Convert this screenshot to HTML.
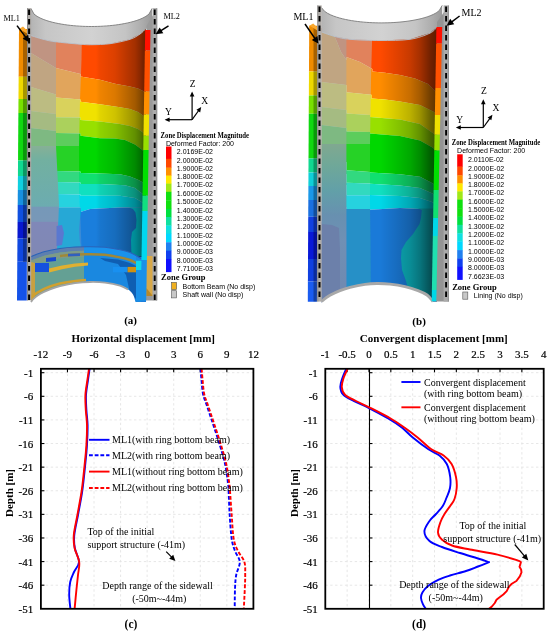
<!DOCTYPE html>
<html><head><meta charset="utf-8"><title>Shaft displacement figure</title>
<style>html,body{margin:0;padding:0;background:#fff;width:550px;height:634px;overflow:hidden}svg{display:block}</style>
</head><body>
<svg width="550" height="634" viewBox="0 0 550 634">
<defs>
<style>
.grid{stroke:#e4e4e4;stroke-width:0.9;stroke-dasharray:2.4,2.5;fill:none}
.tick{stroke:#000;stroke-width:1.1}
.tl{stroke:#000;stroke-width:0.2}
.cb{stroke:#0000ff;stroke-width:1.9;fill:none}
.cr{stroke:#ff0000;stroke-width:1.9;fill:none}
</style>
<linearGradient id="shadeR" x1="0" x2="1" y1="0" y2="0">
<stop offset="0" stop-color="#000" stop-opacity="0"/>
<stop offset="0.3" stop-color="#000" stop-opacity="0.07"/>
<stop offset="0.6" stop-color="#000" stop-opacity="0.2"/>
<stop offset="0.85" stop-color="#000" stop-opacity="0.38"/>
<stop offset="1" stop-color="#000" stop-opacity="0.55"/>
</linearGradient>
<linearGradient id="grayBand" x1="0" x2="1" y1="0" y2="0">
<stop offset="0" stop-color="#b4b4b4"/>
<stop offset="0.12" stop-color="#c6c6c6"/>
<stop offset="0.5" stop-color="#d2d2d2"/>
<stop offset="0.78" stop-color="#c4c4c4"/>
<stop offset="0.92" stop-color="#acacac"/>
<stop offset="1" stop-color="#9a9a9a"/>
</linearGradient>
<linearGradient id="colA_a" gradientUnits="userSpaceOnUse" x1="0" y1="146" x2="0" y2="262">
<stop offset="0" stop-color="#86b096"/>
<stop offset="0.12" stop-color="#72b0a0"/>
<stop offset="0.52" stop-color="#6cacb0"/>
<stop offset="0.525" stop-color="#7698b8"/>
<stop offset="0.65" stop-color="#7898b8"/>
<stop offset="0.655" stop-color="#8088b8"/>
<stop offset="1" stop-color="#8088b4"/>
</linearGradient>
<linearGradient id="colA_b" gradientUnits="userSpaceOnUse" x1="0" y1="144" x2="0" y2="300">
<stop offset="0" stop-color="#80a890"/>
<stop offset="0.13" stop-color="#70a898"/>
<stop offset="0.3" stop-color="#62a0a8"/>
<stop offset="0.46" stop-color="#6890b0"/>
<stop offset="0.62" stop-color="#7090b4"/>
<stop offset="1" stop-color="#7088b0"/>
</linearGradient>
<linearGradient id="shadeA" gradientUnits="userSpaceOnUse" x1="96" y1="0" x2="146" y2="0">
<stop offset="0" stop-color="#000" stop-opacity="0"/>
<stop offset="0.08" stop-color="#000" stop-opacity="0.06"/>
<stop offset="0.38" stop-color="#000" stop-opacity="0.14"/>
<stop offset="0.58" stop-color="#000" stop-opacity="0.25"/>
<stop offset="0.78" stop-color="#000" stop-opacity="0.36"/>
<stop offset="0.88" stop-color="#000" stop-opacity="0.46"/>
<stop offset="0.94" stop-color="#000" stop-opacity="0.54"/>
<stop offset="1" stop-color="#000" stop-opacity="0.58"/>
</linearGradient>
<linearGradient id="shadeB" gradientUnits="userSpaceOnUse" x1="380" y1="0" x2="437" y2="0">
<stop offset="0" stop-color="#000" stop-opacity="0"/>
<stop offset="0.175" stop-color="#000" stop-opacity="0.07"/>
<stop offset="0.35" stop-color="#000" stop-opacity="0.14"/>
<stop offset="0.53" stop-color="#000" stop-opacity="0.22"/>
<stop offset="0.7" stop-color="#000" stop-opacity="0.35"/>
<stop offset="0.88" stop-color="#000" stop-opacity="0.55"/>
<stop offset="1" stop-color="#000" stop-opacity="0.64"/>
</linearGradient>
</defs>
<rect width="550" height="634" fill="#fff"/>
<g id="pa">
<polygon points="31,29 146,29 146,93 143,91 138,88.5 130,86.5 115,83.7 100,79.7 80.51,76.6 80.5,74 56.01,68 56,68 31,53" fill="#ff4a00" />
<polygon points="31,53 56,68 56.01,68 80.5,74 80.51,76.6 100,79.7 115,83.7 130,86.5 138,88.5 143,91 146,93 146,118 143,115.5 138,112 130,109 120,107.3 100,104.2 80.51,101.8 80.5,99.5 56.01,97.5 56,94.5 31,87" fill="#ff8c00" />
<polygon points="31,87 56,94.5 56.01,97.5 80.5,99.5 80.51,101.8 100,104.2 120,107.3 130,109 138,112 143,115.5 146,118 146,135 143,132.5 138,129 130,126 120,124 100,121.5 80.51,120 80.5,117.5 56.01,117.3 56,114 31,111" fill="#f0e200" />
<polygon points="31,111 56,114 56.01,117.3 80.5,117.5 80.51,120 100,121.5 120,124 130,126 138,129 143,132.5 146,135 146,153 143,150.5 140,148.2 135,144.4 125,140 115,138.5 100,138.3 80.51,135.7 80.5,133.5 56.01,133 56,131 31,128" fill="#98e000" />
<polygon points="31,128 56,131 56.01,133 80.5,133.5 80.51,135.7 100,138.3 115,138.5 125,140 135,144.4 140,148.2 143,150.5 146,153 146,185 143,182.5 138,179.7 130,176.4 120,174.2 100,173.6 80.51,172.9 80.5,171.5 56.01,171 56,161 31,157" fill="#00d800" />
<polygon points="31,157 56,161 56.01,171 80.5,171.5 80.51,172.9 100,173.6 120,174.2 130,176.4 138,179.7 143,182.5 146,185 146,196 140,191.9 135,188 125,185.2 100,184 80.51,183.9 80.5,182.5 56.01,182 56,172 31,170" fill="#10e070" />
<polygon points="31,170 56,172 56.01,182 80.5,182.5 80.51,183.9 100,184 125,185.2 135,188 140,191.9 146,196 146,205 140,201 135,198 120,195.7 80.51,195.7 80.5,194.5 56.01,194 56,184 31,181" fill="#10e0c0" />
<polygon points="31,181 56,184 56.01,194 80.5,194.5 80.51,195.7 120,195.7 135,198 140,201 146,205 146,207.6 120,207.6 100,208.4 90,209 80.51,212 80.5,207.8 56.01,207.8 56,207 31,207" fill="#00d8e8" />
<polygon points="31,207 56,207 56.01,207.8 80.5,207.8 80.51,212 90,209 100,208.4 120,207.6 146,207.6 146,302 31,302" fill="#1a7edc" />
<polygon points="129,207.6 133,209 135.5,212.5 136.5,220 136,228 132,232 131,240 131.5,256 146,256 146,207.6" fill="#00d8e8" />
<polygon points="31,222.5 56.5,222.5 56.5,256 31,256" fill="#1050e8" />
<polygon points="56.5,226 62,225 64,233 62,245 56.5,246" fill="#1050e8" />
<rect x="96" y="29" width="50" height="228" fill="url(#shadeA)"/>
<polygon points="56,207.8 80.5,207.8 81,213 79.8,220 79,230 79.6,240 81,248 82,262 56,262" fill="#00a3dd" />
<polygon points="31,29 82,29 81.5,60 80,100 79,146 31,146" fill="rgba(192,192,192,0.48)" />
<polygon points="31,146 79,146 79,190 80.5,220 82,262 31,262" fill="rgba(192,192,192,0.2)" />
<polygon points="31,29 56,29 56,146 31,146" fill="rgba(160,165,168,0.5)" />
<polygon points="31,146 56,146 57.5,175 59,205 56.5,262 31,262" fill="url(#colA_a)" />
<polygon points="56.5,226 62,225 64,233 62,245 56.5,246" fill="#5a78d0" />
<polygon points="31,256.5 45,251.5 60,248.5 75,247 84,246.82 84,302 31,302" fill="#64a094" />
<polygon points="31,256.5 45,251.5 60,248.5 75,247 84,246.82 84,250.82 75,251 60,252.5 45,255.5 31,260.5" fill="#5d7fb0" />
<polygon points="31,260.5 45,255.5 60,252.5 75,251 84,250.82 84,256.82 75,257 60,258.5 45,261.5 31,266.5" fill="#7d9a88" />
<polygon points="84,246.82 90,246.7 105,247.3 120,249.8 130,252.5 136,255.5 141,258.5 141,302 84,302" fill="#1a88e0" />
<polygon points="84,246.82 90,246.7 105,247.3 120,249.8 130,252.5 136,255.5 136,261.5 130,258.5 120,255.8 105,253.3 90,252.7 84,252.82" fill="#1a92ec" />
<path d="M60,256 C62.5,255.75 70,254.8 75,254.5 C80,254.2 85,254.15 90,254.2 C95,254.25 100,254.28 105,254.8 C110,255.32 115.83,256.43 120,257.3 C124.17,258.17 127.33,259.05 130,260 C132.67,260.95 135,262.5 136,263" stroke="#a08838" stroke-width="2.4" fill="none"/>
<polygon points="100,258 118,259.5 130,263 136,266 136,299 130,293 126,275 118,264 105,261" fill="rgba(8,60,140,0.55)" />
<path d="M31,256.5 C33.33,255.67 40.17,252.83 45,251.5 C49.83,250.17 55,249.25 60,248.5 C65,247.75 70,247.3 75,247 C80,246.7 85,246.65 90,246.7 C95,246.75 100,246.78 105,247.3 C110,247.82 115.83,248.93 120,249.8 C124.17,250.67 127.33,251.55 130,252.5 C132.67,253.45 134.17,254.5 136,255.5 C137.83,256.5 140.17,258 141,258.5" stroke="#2a62b8" stroke-width="1.1" fill="none"/>
<polygon points="35,263 49,263 49,272 35,272" fill="#1450e0" />
<polygon points="46,258 56,257 56,261 46,262" fill="#1848d0" />
<polygon points="68,253.8 80,253.2 80,256 68,256.6" fill="#3060c0" />
<polygon points="49,268.5 62,265.5 75,263.5 88,262.5 88,265.5 75,266.8 62,269.2 49,272.5" fill="#e0b030" />
<polygon points="31,262 35,263 35,301 31,301" fill="#c8a040" />
<path d="M31.5,297 C38,291.5 48,286.5 60,283.6 C70,281.5 78,280.4 86,280" stroke="#d0a030" stroke-width="2.6" fill="none"/>
<polygon points="113,266.9 127.6,266.9 127.6,272.3 113,272.3" fill="#1890f0" />
<polygon points="127.6,266.9 136,266.9 136,272.3 127.6,272.3" fill="#d09010" />
<polygon points="136,260.7 145.8,260.7 145.8,270 136,270" fill="#10d8e8" />
<polygon points="136,270 145.8,270 145.8,300.5 136,300.5" fill="#1a90e8" />
<path d="M31,302 C31.42,301.47 32,300.13 33.5,298.8 C35,297.47 37.25,295.57 40,294 C42.75,292.43 46.67,290.7 50,289.4 C53.33,288.1 55.83,287.23 60,286.2 C64.17,285.17 70,283.9 75,283.2 C80,282.5 85,282.1 90,282 C95,281.9 100,282 105,282.6 C110,283.2 116.17,284.45 120,285.6 C123.83,286.75 125.83,288.02 128,289.5 C130.17,290.98 131.75,292.42 133,294.5 C134.25,296.58 135.08,300.75 135.5,302 L135.5,304 L31,304 Z" fill="#fff"/>
<path d="M31,302 C31.42,301.47 32,300.13 33.5,298.8 C35,297.47 37.25,295.57 40,294 C42.75,292.43 46.67,290.7 50,289.4 C53.33,288.1 55.83,287.23 60,286.2 C64.17,285.17 70,283.9 75,283.2 C80,282.5 85,282.1 90,282 C95,281.9 100,282 105,282.6 C110,283.2 116.17,284.45 120,285.6 C123.83,286.75 126.67,288.85 128,289.5" stroke="#a4a4a4" stroke-width="1.8" fill="none"/>
<polygon points="31,8.5 34.02,14.12 37.05,16.35 40.08,17.98 43.1,19.3 46.12,20.41 49.15,21.35 52.17,22.18 55.2,22.9 58.23,23.53 61.25,24.09 64.28,24.57 67.3,25 70.33,25.36 73.35,25.67 76.38,25.93 79.4,26.14 82.42,26.3 85.45,26.41 88.47,26.48 91.5,26.5 94.53,26.48 97.55,26.41 100.58,26.3 103.6,26.14 106.62,25.93 109.65,25.67 112.67,25.36 115.7,25 118.72,24.57 121.75,24.09 124.78,23.53 127.8,22.9 130.82,22.18 133.85,21.35 136.88,20.41 139.9,19.3 142.93,17.98 145.95,16.35 148.97,14.12 152,8.5 152,26 145,29.5 140,34 130,39.3 110,43.7 92,44.7 80,44.2 55,41.7 43,39.2 31,35.6" fill="url(#grayBand)" />
<path d="M31,8.5 L34.02,14.12 L37.05,16.35 L40.08,17.98 L43.1,19.3 L46.12,20.41 L49.15,21.35 L52.17,22.18 L55.2,22.9 L58.23,23.53 L61.25,24.09 L64.28,24.57 L67.3,25 L70.33,25.36 L73.35,25.67 L76.38,25.93 L79.4,26.14 L82.42,26.3 L85.45,26.41 L88.47,26.48 L91.5,26.5 L94.53,26.48 L97.55,26.41 L100.58,26.3 L103.6,26.14 L106.62,25.93 L109.65,25.67 L112.67,25.36 L115.7,25 L118.72,24.57 L121.75,24.09 L124.78,23.53 L127.8,22.9 L130.82,22.18 L133.85,21.35 L136.88,20.41 L139.9,19.3 L142.93,17.98 L145.95,16.35 L148.97,14.12 L152,8.5" stroke="#7a7a7a" stroke-width="0.9" fill="none"/>
<path d="M31,35.6 C33,36.2 39,38.18 43,39.2 C47,40.22 48.83,40.87 55,41.7 C61.17,42.53 73.83,43.7 80,44.2 C86.17,44.7 87,44.78 92,44.7 C97,44.62 103.67,44.6 110,43.7 C116.33,42.8 125,40.92 130,39.3 C135,37.68 137.5,35.63 140,34 C142.5,32.37 144.17,30.25 145,29.5" stroke="#b8c4d0" stroke-width="0.9" fill="none"/>
<polygon points="19,29 27,29 26.96,76.8 18.65,76.8" fill="#f08c00" />
<polygon points="18.65,76.8 26.96,76.8 26.95,98.9 18.49,98.9" fill="#eed800" />
<polygon points="18.49,98.9 26.95,98.9 26.94,113 18.38,113" fill="#78e000" />
<polygon points="18.38,113 26.94,113 26.9,160.5 18.03,160.5" fill="#10d810" />
<polygon points="18.03,160.5 26.9,160.5 26.89,176 17.92,176" fill="#10d890" />
<polygon points="17.92,176 26.89,176 26.88,190 17.81,190" fill="#10d0e0" />
<polygon points="17.81,190 26.88,190 26.87,205 17.7,205" fill="#1890e0" />
<polygon points="17.7,205 26.87,205 26.86,222 17.58,222" fill="#1050e0" />
<polygon points="17.58,222 26.86,222 26.85,238.6 17.46,238.6" fill="#0818d0" />
<polygon points="17.46,238.6 26.85,238.6 26.83,261.7 17.29,261.7" fill="#1048e0" />
<polygon points="17.29,261.7 26.83,261.7 26.8,300.5 17,300.5" fill="#1452e8" />
<polygon points="23,31 27,33 27,262 23,262" fill="rgba(0,0,0,0.3)" />
<polygon points="19,29 23,26.5 27.2,30.5 27.2,33.5 23,31" fill="#f8a830" />
<rect x="27" y="8.2" width="4.2" height="292.2" fill="#b0aca8"/>
<rect x="27" y="8.2" width="0.8" height="292.2" fill="#808080"/>
<line x1="29.1" y1="9.5" x2="29.1" y2="300" stroke="#000" stroke-width="2" stroke-dasharray="5.5,4"/>
<polygon points="146.5,26 157,8.2 157,300.5 146,300.5" fill="#9a9a9a" />
<polygon points="146.5,256 152.8,256 152.8,296 146.3,296" fill="#d8a848" />
<polygon points="146.3,288 152.8,296 146.3,296" fill="#b88828" />
<polygon points="145.2,30 150.5,30 150.17,50.5 144.87,50.5" fill="#ff1000" />
<polygon points="144.87,50.5 150.17,50.5 149.52,91.5 144.2,91.5" fill="#ff5000" />
<polygon points="144.2,91.5 149.52,91.5 149.16,114.4 143.83,114.4" fill="#ff9000" />
<polygon points="143.83,114.4 149.16,114.4 148.82,135.7 143.48,135.7" fill="#f0e000" />
<polygon points="143.48,135.7 148.82,135.7 148.59,150 143.25,150" fill="#98e000" />
<polygon points="143.25,150 148.59,150 147.86,195.8 142.5,195.8" fill="#00e000" />
<polygon points="142.5,195.8 147.86,195.8 147.62,211 142.26,211" fill="#10e080" />
<polygon points="142.26,211 147.62,211 146.84,260 141.46,260" fill="#00d8f0" />
<polygon points="141.46,260 146.84,260 146.2,300.5 140.8,300.5" fill="#1a90e8" />
<rect x="152.6" y="8.2" width="4.6" height="292.2" fill="#ababab"/>
<rect x="156.4" y="8.2" width="0.8" height="292.2" fill="#888"/>
<line x1="154.7" y1="9.5" x2="154.7" y2="300" stroke="#000" stroke-width="1.9" stroke-dasharray="5.5,4"/>
<text x="11.6" y="21" font-family="'Liberation Serif', 'Times New Roman', serif" font-size="8.2" font-weight="normal" text-anchor="middle" fill="#000" >ML1</text>
<line x1="17" y1="25.6" x2="26" y2="37.6" stroke="#000" stroke-width="1.5"/><polygon points="29.6,42.4 22.68,38.84 28.12,34.76" fill="#000" />
<text x="171.6" y="19" font-family="'Liberation Serif', 'Times New Roman', serif" font-size="8.2" font-weight="normal" text-anchor="middle" fill="#000" >ML2</text>
<line x1="168.5" y1="25.9" x2="160.65" y2="30.95" stroke="#000" stroke-width="1.5"/><polygon points="155.6,34.2 159.65,27.55 163.33,33.27" fill="#000" />
<line x1="192.1" y1="119.7" x2="192.1" y2="95.5" stroke="#000" stroke-width="1.2"/><polygon points="192.1,91.5 194.4,96.5 189.8,96.5" fill="#000" />
<line x1="192.1" y1="119.7" x2="168.6" y2="119.7" stroke="#000" stroke-width="1.2"/><polygon points="164.6,119.7 169.6,117.4 169.6,122" fill="#000" />
<line x1="192.1" y1="119.7" x2="198.87" y2="110.25" stroke="#000" stroke-width="1.2"/><polygon points="201.2,107 200.16,112.4 196.42,109.72" fill="#000" />
<text x="192.6" y="86.6" font-family="'Liberation Serif', 'Times New Roman', serif" font-size="9.5" font-weight="normal" text-anchor="middle" fill="#000" >Z</text>
<text x="168.5" y="115" font-family="'Liberation Serif', 'Times New Roman', serif" font-size="9.5" font-weight="normal" text-anchor="middle" fill="#000" >Y</text>
<text x="204.8" y="103.6" font-family="'Liberation Serif', 'Times New Roman', serif" font-size="9.5" font-weight="normal" text-anchor="middle" fill="#000" >X</text>
<text x="160.5" y="137.6" font-family="'Liberation Serif', 'Times New Roman', serif" font-size="7.6" font-weight="bold" text-anchor="start" fill="#000" textLength="88.5" lengthAdjust="spacingAndGlyphs">Zone Displacement Magnitude</text>
<text x="165.9" y="145.6" font-family="'Liberation Sans', Arial, sans-serif" font-size="7" font-weight="normal" text-anchor="start" fill="#000" >Deformed Factor: 200</text>
<rect x="166" y="146.5" width="5.5" height="12.6" fill="#ff0000"/>
<rect x="166" y="158.8" width="5.5" height="9.1" fill="#ff4800"/>
<rect x="166" y="167.6" width="5.5" height="8.3" fill="#ff9000"/>
<rect x="166" y="175.6" width="5.5" height="8.3" fill="#ffe800"/>
<rect x="166" y="183.6" width="5.5" height="8.5" fill="#a0e818"/>
<rect x="166" y="191.8" width="5.5" height="8.8" fill="#10e010"/>
<rect x="166" y="200.3" width="5.5" height="8.8" fill="#10e010"/>
<rect x="166" y="208.8" width="5.5" height="8.5" fill="#00e040"/>
<rect x="166" y="217" width="5.5" height="8.8" fill="#10e0a0"/>
<rect x="166" y="225.5" width="5.5" height="8.5" fill="#10e0e0"/>
<rect x="166" y="233.7" width="5.5" height="8.9" fill="#00d8ff"/>
<rect x="166" y="242.3" width="5.5" height="8.7" fill="#2080f0"/>
<rect x="166" y="250.7" width="5.5" height="8.6" fill="#1040f0"/>
<rect x="166" y="259" width="5.5" height="13.1" fill="#1010ff"/>
<text x="176.8" y="154.3" font-family="'Liberation Sans', Arial, sans-serif" font-size="7" font-weight="normal" text-anchor="start" fill="#000" >2.0169E-02</text>
<text x="176.8" y="162.7" font-family="'Liberation Sans', Arial, sans-serif" font-size="7" font-weight="normal" text-anchor="start" fill="#000" >2.0000E-02</text>
<text x="176.8" y="171" font-family="'Liberation Sans', Arial, sans-serif" font-size="7" font-weight="normal" text-anchor="start" fill="#000" >1.9000E-02</text>
<text x="176.8" y="179.2" font-family="'Liberation Sans', Arial, sans-serif" font-size="7" font-weight="normal" text-anchor="start" fill="#000" >1.8000E-02</text>
<text x="176.8" y="187.4" font-family="'Liberation Sans', Arial, sans-serif" font-size="7" font-weight="normal" text-anchor="start" fill="#000" >1.7000E-02</text>
<text x="176.8" y="195.7" font-family="'Liberation Sans', Arial, sans-serif" font-size="7" font-weight="normal" text-anchor="start" fill="#000" >1.6000E-02</text>
<text x="176.8" y="204.2" font-family="'Liberation Sans', Arial, sans-serif" font-size="7" font-weight="normal" text-anchor="start" fill="#000" >1.5000E-02</text>
<text x="176.8" y="212.6" font-family="'Liberation Sans', Arial, sans-serif" font-size="7" font-weight="normal" text-anchor="start" fill="#000" >1.4000E-02</text>
<text x="176.8" y="221" font-family="'Liberation Sans', Arial, sans-serif" font-size="7" font-weight="normal" text-anchor="start" fill="#000" >1.3000E-02</text>
<text x="176.8" y="229.3" font-family="'Liberation Sans', Arial, sans-serif" font-size="7" font-weight="normal" text-anchor="start" fill="#000" >1.2000E-02</text>
<text x="176.8" y="237.6" font-family="'Liberation Sans', Arial, sans-serif" font-size="7" font-weight="normal" text-anchor="start" fill="#000" >1.1000E-02</text>
<text x="176.8" y="246" font-family="'Liberation Sans', Arial, sans-serif" font-size="7" font-weight="normal" text-anchor="start" fill="#000" >1.0000E-02</text>
<text x="176.8" y="254.3" font-family="'Liberation Sans', Arial, sans-serif" font-size="7" font-weight="normal" text-anchor="start" fill="#000" >9.0000E-03</text>
<text x="176.8" y="262.6" font-family="'Liberation Sans', Arial, sans-serif" font-size="7" font-weight="normal" text-anchor="start" fill="#000" >8.0000E-03</text>
<text x="176.8" y="271" font-family="'Liberation Sans', Arial, sans-serif" font-size="7" font-weight="normal" text-anchor="start" fill="#000" >7.7100E-03</text>
<text x="161" y="280.4" font-family="'Liberation Serif', 'Times New Roman', serif" font-size="8.5" font-weight="bold" text-anchor="start" fill="#000" >Zone Group</text>
<rect x="171.6" y="282.4" width="5" height="7.2" fill="#f0b020" stroke="#555" stroke-width="0.6"/>
<text x="182.6" y="288.6" font-family="'Liberation Sans', Arial, sans-serif" font-size="7" font-weight="normal" text-anchor="start" fill="#000" >Bottom Beam (No disp)</text>
<rect x="171.6" y="290.7" width="5" height="7.2" fill="#c8c8c8" stroke="#555" stroke-width="0.6"/>
<text x="182.6" y="296.9" font-family="'Liberation Sans', Arial, sans-serif" font-size="7" font-weight="normal" text-anchor="start" fill="#000" >Shaft wall (No disp)</text>
</g>
<g id="pb">
<polygon points="321.5,28 437,28 437,93 428,84 415,78.5 400,75 385,72.8 372.41,71.5 372.4,69 360,62 346.41,57 346.4,60 341,52 337,42 333,33 321.5,30" fill="#ff4a00" />
<polygon points="321.5,30 333,33 337,42 341,52 346.4,60 346.41,57 360,62 372.4,69 372.41,71.5 385,72.8 400,75 415,78.5 428,84 437,93 437,113.6 420,105 400,101.5 385,99.6 371.51,98.5 371.5,94.7 346.41,92.3 346.4,85 321.5,82" fill="#ff8c00" />
<polygon points="321.5,82 346.4,85 346.41,92.3 371.5,94.7 371.51,98.5 385,99.6 400,101.5 420,105 437,113.6 437,136 432,132.6 420,124 400,119.5 370.01,117 370,115 346.41,113.6 346.4,110 321.5,107" fill="#f0e200" />
<polygon points="321.5,107 346.4,110 346.41,113.6 370,115 370.01,117 400,119.5 420,124 432,132.6 437,136 437,151 432,147.3 420,140.4 400,136 370.01,133.4 370,132 346.41,131.6 346.4,128 321.5,125" fill="#98e000" />
<polygon points="321.5,125 346.4,128 346.41,131.6 370,132 370.01,133.4 400,136 420,140.4 432,147.3 437,151 437,186 432,183 420,176.8 400,174.2 370.01,172.5 370,172 346.41,170.2 346.4,162 321.5,158" fill="#00d800" />
<polygon points="321.5,158 346.4,162 346.41,170.2 370,172 370.01,172.5 400,174.2 420,176.8 432,183 437,186 437,196 432,193.3 420,188 400,185.5 370.01,183.8 370,183.5 346.41,182.7 346.4,174 321.5,170" fill="#10e070" />
<polygon points="321.5,170 346.4,174 346.41,182.7 370,183.5 370.01,183.8 400,185.5 420,188 432,193.3 437,196 437,205 432,202 420,198 400,196 370.01,195 370,195.2 346.41,195.2 346.4,185 321.5,181" fill="#10e0c0" />
<polygon points="321.5,181 346.4,185 346.41,195.2 370,195.2 370.01,195 400,196 420,198 432,202 437,205 437,210 420,209 400,208 370.01,209.8 370,209 346.41,209 346.4,207 321.5,205" fill="#00d8e8" />
<polygon points="321.5,205 346.4,207 346.41,209 370,209 370.01,209.8 400,208 420,209 437,210 437,301.4 321.5,301.4" fill="#1a7ad8" />
<polygon points="418,208.4 421.8,210 421,218 419.5,224 413,234 406,242 401.5,250 401,258 402,270 406,281 410,296 437,296 437,208.5" fill="#0cb4c0" />
<polygon points="346.4,209 370,209 370.5,240 371,296 346.4,296" fill="#0085ca" />
<polygon points="321.5,222 338,224 338,296 321.5,296" fill="#1040d8" />
<rect x="380" y="28" width="57" height="273.4" fill="url(#shadeB)"/>
<polygon points="321.5,28 372.4,28 371,80 370,144 321.5,144" fill="rgba(192,192,192,0.48)" />
<polygon points="321.5,144 370,144 370,200 370.5,240 371,303 321.5,303" fill="rgba(192,192,192,0.2)" />
<polygon points="321.5,28 346.4,28 346.4,144 321.5,144" fill="rgba(160,165,168,0.5)" />
<polygon points="321.5,144 346.4,144 346.4,303 321.5,303" fill="url(#colA_b)" />
<polygon points="321.5,224 332,225 339,228 340,250 340,303 321.5,303" fill="#6c80aa" />
<path d="M321.5,301.5 C322.08,301.02 323.58,299.65 325,298.6 C326.42,297.55 327.5,296.53 330,295.2 C332.5,293.87 336.67,291.9 340,290.6 C343.33,289.3 345.83,288.43 350,287.4 C354.17,286.37 360.5,285.05 365,284.4 C369.5,283.75 372.83,283.55 377,283.5 C381.17,283.45 385.33,283.58 390,284.1 C394.67,284.62 400.33,285.52 405,286.6 C409.67,287.68 414.33,289.2 418,290.6 C421.67,292 424.5,293.18 427,295 C429.5,296.82 432,300.42 433,301.5 L433,304 L321.5,304 Z" fill="#fff"/>
<path d="M321.5,301.5 C322.08,301.02 323.58,299.65 325,298.6 C326.42,297.55 327.5,296.53 330,295.2 C332.5,293.87 336.67,291.9 340,290.6 C343.33,289.3 345.83,288.43 350,287.4 C354.17,286.37 360.5,285.05 365,284.4 C369.5,283.75 372.83,283.55 377,283.5 C381.17,283.45 385.33,283.58 390,284.1 C394.67,284.62 400.33,285.52 405,286.6 C409.67,287.68 414.33,289.2 418,290.6 C421.67,292 424.5,293.18 427,295 C429.5,296.82 432,300.42 433,301.5" stroke="#a8a8a8" stroke-width="2.8" fill="none"/>
<polygon points="321.5,7.65 324.52,11.28 327.54,13.31 330.55,14.84 333.57,16.08 336.59,17.13 339.61,18.03 342.62,18.81 345.64,19.49 348.66,20.1 351.68,20.63 354.69,21.09 357.71,21.49 360.73,21.84 363.75,22.13 366.76,22.37 369.78,22.57 372.8,22.72 375.81,22.82 378.83,22.88 381.85,22.9 384.87,22.87 387.88,22.8 390.9,22.69 393.92,22.53 396.94,22.32 399.95,22.07 402.97,21.76 405.99,21.4 409.01,20.99 412.02,20.51 415.04,19.96 418.06,19.34 421.08,18.64 424.09,17.83 427.11,16.9 430.13,15.81 433.15,14.51 436.16,12.9 439.18,10.68 442.2,5.4 442.2,22 437,27 430,33.1 410,39.3 380,40.5 350,39.3 335,36.5 321.5,32" fill="url(#grayBand)" />
<path d="M321.5,7.65 L324.52,11.28 L327.54,13.31 L330.55,14.84 L333.57,16.08 L336.59,17.13 L339.61,18.03 L342.62,18.81 L345.64,19.49 L348.66,20.1 L351.68,20.63 L354.69,21.09 L357.71,21.49 L360.73,21.84 L363.75,22.13 L366.76,22.37 L369.78,22.57 L372.8,22.72 L375.81,22.82 L378.83,22.88 L381.85,22.9 L384.87,22.87 L387.88,22.8 L390.9,22.69 L393.92,22.53 L396.94,22.32 L399.95,22.07 L402.97,21.76 L405.99,21.4 L409.01,20.99 L412.02,20.51 L415.04,19.96 L418.06,19.34 L421.08,18.64 L424.09,17.83 L427.11,16.9 L430.13,15.81 L433.15,14.51 L436.16,12.9 L439.18,10.68 L442.2,5.4" stroke="#7a7a7a" stroke-width="0.9" fill="none"/>
<path d="M321.5,32 C323.75,32.75 330.25,35.28 335,36.5 C339.75,37.72 342.5,38.63 350,39.3 C357.5,39.97 370,40.5 380,40.5 C390,40.5 401.67,40.53 410,39.3 C418.33,38.07 425.5,35.15 430,33.1 C434.5,31.05 435.83,28.02 437,27" stroke="#b8c4d0" stroke-width="0.9" fill="none"/>
<polygon points="309.2,25.7 317.4,25.7 317.32,71.5 308.97,71.5" fill="#f08c00" />
<polygon points="308.97,71.5 317.32,71.5 317.27,95.5 308.85,95.5" fill="#eed800" />
<polygon points="308.85,95.5 317.27,95.5 317.24,113.8 308.75,113.8" fill="#78e000" />
<polygon points="308.75,113.8 317.24,113.8 317.16,158.4 308.53,158.4" fill="#10d810" />
<polygon points="308.53,158.4 317.16,158.4 317.13,172.6 308.46,172.6" fill="#10d890" />
<polygon points="308.46,172.6 317.13,172.6 317.11,186 308.39,186" fill="#10d0d8" />
<polygon points="308.39,186 317.11,186 317.08,200 308.32,200" fill="#1a98e8" />
<polygon points="308.32,200 317.08,200 317.05,216.7 308.23,216.7" fill="#1a70e0" />
<polygon points="308.23,216.7 317.05,216.7 317.03,232 308.15,232" fill="#1040e0" />
<polygon points="308.15,232 317.03,232 316.98,259 308.02,259" fill="#0818d8" />
<polygon points="308.02,259 316.98,259 316.94,281.4 307.9,281.4" fill="#1040e0" />
<polygon points="307.9,281.4 316.94,281.4 316.9,301.8 307.8,301.8" fill="#1a5cf0" />
<polygon points="313.5,28 317.4,30 317.4,301.6 313.5,301.6" fill="rgba(0,0,0,0.3)" />
<polygon points="309.2,25.7 313.2,23.5 317.4,27.5 317.4,30.5 313.5,28" fill="#f8a830" />
<rect x="317.4" y="5.4" width="4.3" height="296.2" fill="#b0aca8"/>
<rect x="317.4" y="5.4" width="0.8" height="296.2" fill="#808080"/>
<line x1="319.5" y1="6.5" x2="319.5" y2="301" stroke="#000" stroke-width="2" stroke-dasharray="5.5,4"/>
<polygon points="437,22 448.7,5.4 448.7,301.6 436,301.6" fill="#949494" />
<polygon points="436.4,27 442.2,27 441.84,43.6 436.12,43.6" fill="#ff1000" />
<polygon points="436.12,43.6 441.84,43.6 440.89,88 435.35,88" fill="#ff5000" />
<polygon points="435.35,88 440.89,88 440.31,115 434.89,115" fill="#ff9000" />
<polygon points="434.89,115 440.31,115 439.88,134.7 434.55,134.7" fill="#f0e000" />
<polygon points="434.55,134.7 439.88,134.7 439.54,150.5 434.28,150.5" fill="#98e000" />
<polygon points="434.28,150.5 439.54,150.5 438.69,190 433.61,190" fill="#00e000" />
<polygon points="433.61,190 438.69,190 438.09,218 433.13,218" fill="#10e070" />
<polygon points="433.13,218 438.09,218 437.7,236 432.82,236" fill="#00d8e8" />
<polygon points="432.82,236 437.7,236 436.54,290 431.89,290" fill="#20e0b0" />
<polygon points="431.89,290 436.54,290 436.3,301.3 431.7,301.3" fill="#00d8e8" />
<rect x="443.6" y="5.4" width="5.1" height="296.2" fill="#ababab"/>
<rect x="447.9" y="5.4" width="0.8" height="296.2" fill="#888"/>
<line x1="446.1" y1="6.5" x2="446.1" y2="301" stroke="#000" stroke-width="1.9" stroke-dasharray="5.5,4"/>
<text x="303.4" y="19.8" font-family="'Liberation Serif', 'Times New Roman', serif" font-size="10" font-weight="normal" text-anchor="middle" fill="#000" >ML1</text>
<line x1="305" y1="24" x2="315.2" y2="38.85" stroke="#000" stroke-width="1.5"/><polygon points="318.6,43.8 311.83,39.96 317.44,36.11" fill="#000" />
<text x="471.5" y="16" font-family="'Liberation Serif', 'Times New Roman', serif" font-size="10" font-weight="normal" text-anchor="middle" fill="#000" >ML2</text>
<line x1="459.6" y1="16" x2="451.41" y2="22.11" stroke="#000" stroke-width="1.5"/><polygon points="446.6,25.7 450.18,18.79 454.24,24.24" fill="#000" />
<line x1="483.3" y1="127.5" x2="483.3" y2="103.3" stroke="#000" stroke-width="1.2"/><polygon points="483.3,99.3 485.6,104.3 481,104.3" fill="#000" />
<line x1="483.3" y1="127.5" x2="459.8" y2="127.5" stroke="#000" stroke-width="1.2"/><polygon points="455.8,127.5 460.8,125.2 460.8,129.8" fill="#000" />
<line x1="483.3" y1="127.5" x2="490.07" y2="118.05" stroke="#000" stroke-width="1.2"/><polygon points="492.4,114.8 491.36,120.2 487.62,117.52" fill="#000" />
<text x="483.8" y="94.4" font-family="'Liberation Serif', 'Times New Roman', serif" font-size="9.5" font-weight="normal" text-anchor="middle" fill="#000" >Z</text>
<text x="459.7" y="122.8" font-family="'Liberation Serif', 'Times New Roman', serif" font-size="9.5" font-weight="normal" text-anchor="middle" fill="#000" >Y</text>
<text x="496" y="111.4" font-family="'Liberation Serif', 'Times New Roman', serif" font-size="9.5" font-weight="normal" text-anchor="middle" fill="#000" >X</text>
<text x="451.7" y="145.4" font-family="'Liberation Serif', 'Times New Roman', serif" font-size="7.6" font-weight="bold" text-anchor="start" fill="#000" textLength="88.5" lengthAdjust="spacingAndGlyphs">Zone Displacement Magnitude</text>
<text x="457.1" y="153.4" font-family="'Liberation Sans', Arial, sans-serif" font-size="7" font-weight="normal" text-anchor="start" fill="#000" >Deformed Factor: 200</text>
<rect x="457.2" y="154.3" width="5.5" height="12.6" fill="#ff0000"/>
<rect x="457.2" y="166.6" width="5.5" height="9.1" fill="#ff4800"/>
<rect x="457.2" y="175.4" width="5.5" height="8.3" fill="#ff9000"/>
<rect x="457.2" y="183.4" width="5.5" height="8.3" fill="#ffe800"/>
<rect x="457.2" y="191.4" width="5.5" height="8.5" fill="#a0e818"/>
<rect x="457.2" y="199.6" width="5.5" height="8.8" fill="#10e010"/>
<rect x="457.2" y="208.1" width="5.5" height="8.8" fill="#10e010"/>
<rect x="457.2" y="216.6" width="5.5" height="8.5" fill="#00e040"/>
<rect x="457.2" y="224.8" width="5.5" height="8.8" fill="#10e0a0"/>
<rect x="457.2" y="233.3" width="5.5" height="8.5" fill="#10e0e0"/>
<rect x="457.2" y="241.5" width="5.5" height="8.9" fill="#00d8ff"/>
<rect x="457.2" y="250.1" width="5.5" height="8.7" fill="#2080f0"/>
<rect x="457.2" y="258.5" width="5.5" height="8.6" fill="#1040f0"/>
<rect x="457.2" y="266.8" width="5.5" height="13.1" fill="#1010ff"/>
<text x="468" y="162.1" font-family="'Liberation Sans', Arial, sans-serif" font-size="7" font-weight="normal" text-anchor="start" fill="#000" >2.0110E-02</text>
<text x="468" y="170.5" font-family="'Liberation Sans', Arial, sans-serif" font-size="7" font-weight="normal" text-anchor="start" fill="#000" >2.0000E-02</text>
<text x="468" y="178.8" font-family="'Liberation Sans', Arial, sans-serif" font-size="7" font-weight="normal" text-anchor="start" fill="#000" >1.9000E-02</text>
<text x="468" y="187" font-family="'Liberation Sans', Arial, sans-serif" font-size="7" font-weight="normal" text-anchor="start" fill="#000" >1.8000E-02</text>
<text x="468" y="195.2" font-family="'Liberation Sans', Arial, sans-serif" font-size="7" font-weight="normal" text-anchor="start" fill="#000" >1.7000E-02</text>
<text x="468" y="203.5" font-family="'Liberation Sans', Arial, sans-serif" font-size="7" font-weight="normal" text-anchor="start" fill="#000" >1.6000E-02</text>
<text x="468" y="212" font-family="'Liberation Sans', Arial, sans-serif" font-size="7" font-weight="normal" text-anchor="start" fill="#000" >1.5000E-02</text>
<text x="468" y="220.4" font-family="'Liberation Sans', Arial, sans-serif" font-size="7" font-weight="normal" text-anchor="start" fill="#000" >1.4000E-02</text>
<text x="468" y="228.8" font-family="'Liberation Sans', Arial, sans-serif" font-size="7" font-weight="normal" text-anchor="start" fill="#000" >1.3000E-02</text>
<text x="468" y="237.1" font-family="'Liberation Sans', Arial, sans-serif" font-size="7" font-weight="normal" text-anchor="start" fill="#000" >1.2000E-02</text>
<text x="468" y="245.4" font-family="'Liberation Sans', Arial, sans-serif" font-size="7" font-weight="normal" text-anchor="start" fill="#000" >1.1000E-02</text>
<text x="468" y="253.8" font-family="'Liberation Sans', Arial, sans-serif" font-size="7" font-weight="normal" text-anchor="start" fill="#000" >1.0000E-02</text>
<text x="468" y="262.1" font-family="'Liberation Sans', Arial, sans-serif" font-size="7" font-weight="normal" text-anchor="start" fill="#000" >9.0000E-03</text>
<text x="468" y="270.4" font-family="'Liberation Sans', Arial, sans-serif" font-size="7" font-weight="normal" text-anchor="start" fill="#000" >8.0000E-03</text>
<text x="468" y="278.8" font-family="'Liberation Sans', Arial, sans-serif" font-size="7" font-weight="normal" text-anchor="start" fill="#000" >7.6623E-03</text>
<text x="452.2" y="290" font-family="'Liberation Serif', 'Times New Roman', serif" font-size="8.5" font-weight="bold" text-anchor="start" fill="#000" >Zone Group</text>
<rect x="462.8" y="292" width="5" height="7.2" fill="#c8c8c8" stroke="#555" stroke-width="0.6"/>
<text x="473.8" y="298.2" font-family="'Liberation Sans', Arial, sans-serif" font-size="7" font-weight="normal" text-anchor="start" fill="#000" >Lining (No disp)</text>
</g>
<line x1="67.46" y1="368.8" x2="67.46" y2="608.8" class="grid"/>
<line x1="94.03" y1="368.8" x2="94.03" y2="608.8" class="grid"/>
<line x1="120.59" y1="368.8" x2="120.59" y2="608.8" class="grid"/>
<line x1="147.15" y1="368.8" x2="147.15" y2="608.8" class="grid"/>
<line x1="173.71" y1="368.8" x2="173.71" y2="608.8" class="grid"/>
<line x1="200.28" y1="368.8" x2="200.28" y2="608.8" class="grid"/>
<line x1="226.84" y1="368.8" x2="226.84" y2="608.8" class="grid"/>
<line x1="40.9" y1="372.7" x2="253.4" y2="372.7" class="grid"/>
<line x1="40.9" y1="396.31" x2="253.4" y2="396.31" class="grid"/>
<line x1="40.9" y1="419.92" x2="253.4" y2="419.92" class="grid"/>
<line x1="40.9" y1="443.53" x2="253.4" y2="443.53" class="grid"/>
<line x1="40.9" y1="467.14" x2="253.4" y2="467.14" class="grid"/>
<line x1="40.9" y1="490.75" x2="253.4" y2="490.75" class="grid"/>
<line x1="40.9" y1="514.36" x2="253.4" y2="514.36" class="grid"/>
<line x1="40.9" y1="537.97" x2="253.4" y2="537.97" class="grid"/>
<line x1="40.9" y1="561.58" x2="253.4" y2="561.58" class="grid"/>
<line x1="40.9" y1="585.19" x2="253.4" y2="585.19" class="grid"/>
<line x1="67.46" y1="368.8" x2="67.46" y2="372.3" class="tick"/>
<line x1="94.03" y1="368.8" x2="94.03" y2="372.3" class="tick"/>
<line x1="120.59" y1="368.8" x2="120.59" y2="372.3" class="tick"/>
<line x1="147.15" y1="368.8" x2="147.15" y2="372.3" class="tick"/>
<line x1="173.71" y1="368.8" x2="173.71" y2="372.3" class="tick"/>
<line x1="200.28" y1="368.8" x2="200.28" y2="372.3" class="tick"/>
<line x1="226.84" y1="368.8" x2="226.84" y2="372.3" class="tick"/>
<line x1="40.9" y1="372.7" x2="44.4" y2="372.7" class="tick"/>
<line x1="40.9" y1="396.31" x2="44.4" y2="396.31" class="tick"/>
<line x1="40.9" y1="419.92" x2="44.4" y2="419.92" class="tick"/>
<line x1="40.9" y1="443.53" x2="44.4" y2="443.53" class="tick"/>
<line x1="40.9" y1="467.14" x2="44.4" y2="467.14" class="tick"/>
<line x1="40.9" y1="490.75" x2="44.4" y2="490.75" class="tick"/>
<line x1="40.9" y1="514.36" x2="44.4" y2="514.36" class="tick"/>
<line x1="40.9" y1="537.97" x2="44.4" y2="537.97" class="tick"/>
<line x1="40.9" y1="561.58" x2="44.4" y2="561.58" class="tick"/>
<line x1="40.9" y1="585.19" x2="44.4" y2="585.19" class="tick"/>
<text x="40.9" y="357.8" font-family="'Liberation Serif', 'Times New Roman', serif" font-size="11" font-weight="normal" text-anchor="middle" fill="#000" class="tl">-12</text>
<text x="67.46" y="357.8" font-family="'Liberation Serif', 'Times New Roman', serif" font-size="11" font-weight="normal" text-anchor="middle" fill="#000" class="tl">-9</text>
<text x="94.03" y="357.8" font-family="'Liberation Serif', 'Times New Roman', serif" font-size="11" font-weight="normal" text-anchor="middle" fill="#000" class="tl">-6</text>
<text x="120.59" y="357.8" font-family="'Liberation Serif', 'Times New Roman', serif" font-size="11" font-weight="normal" text-anchor="middle" fill="#000" class="tl">-3</text>
<text x="147.15" y="357.8" font-family="'Liberation Serif', 'Times New Roman', serif" font-size="11" font-weight="normal" text-anchor="middle" fill="#000" class="tl">0</text>
<text x="173.71" y="357.8" font-family="'Liberation Serif', 'Times New Roman', serif" font-size="11" font-weight="normal" text-anchor="middle" fill="#000" class="tl">3</text>
<text x="200.28" y="357.8" font-family="'Liberation Serif', 'Times New Roman', serif" font-size="11" font-weight="normal" text-anchor="middle" fill="#000" class="tl">6</text>
<text x="226.84" y="357.8" font-family="'Liberation Serif', 'Times New Roman', serif" font-size="11" font-weight="normal" text-anchor="middle" fill="#000" class="tl">9</text>
<text x="253.4" y="357.8" font-family="'Liberation Serif', 'Times New Roman', serif" font-size="11" font-weight="normal" text-anchor="middle" fill="#000" class="tl">12</text>
<text x="33.2" y="376.7" font-family="'Liberation Serif', 'Times New Roman', serif" font-size="11" font-weight="normal" text-anchor="end" fill="#000" class="tl">-1</text>
<text x="33.2" y="400.31" font-family="'Liberation Serif', 'Times New Roman', serif" font-size="11" font-weight="normal" text-anchor="end" fill="#000" class="tl">-6</text>
<text x="33.2" y="423.92" font-family="'Liberation Serif', 'Times New Roman', serif" font-size="11" font-weight="normal" text-anchor="end" fill="#000" class="tl">-11</text>
<text x="33.2" y="447.53" font-family="'Liberation Serif', 'Times New Roman', serif" font-size="11" font-weight="normal" text-anchor="end" fill="#000" class="tl">-16</text>
<text x="33.2" y="471.14" font-family="'Liberation Serif', 'Times New Roman', serif" font-size="11" font-weight="normal" text-anchor="end" fill="#000" class="tl">-21</text>
<text x="33.2" y="494.75" font-family="'Liberation Serif', 'Times New Roman', serif" font-size="11" font-weight="normal" text-anchor="end" fill="#000" class="tl">-26</text>
<text x="33.2" y="518.36" font-family="'Liberation Serif', 'Times New Roman', serif" font-size="11" font-weight="normal" text-anchor="end" fill="#000" class="tl">-31</text>
<text x="33.2" y="541.97" font-family="'Liberation Serif', 'Times New Roman', serif" font-size="11" font-weight="normal" text-anchor="end" fill="#000" class="tl">-36</text>
<text x="33.2" y="565.58" font-family="'Liberation Serif', 'Times New Roman', serif" font-size="11" font-weight="normal" text-anchor="end" fill="#000" class="tl">-41</text>
<text x="33.2" y="589.19" font-family="'Liberation Serif', 'Times New Roman', serif" font-size="11" font-weight="normal" text-anchor="end" fill="#000" class="tl">-46</text>
<text x="33.2" y="612.8" font-family="'Liberation Serif', 'Times New Roman', serif" font-size="11" font-weight="normal" text-anchor="end" fill="#000" class="tl">-51</text>
<text x="143.2" y="342.2" font-family="'Liberation Serif', 'Times New Roman', serif" font-size="11" font-weight="bold" text-anchor="middle" fill="#000" >Horizontal displacement [mm]</text>
<text x="130.6" y="324.2" font-family="'Liberation Serif', 'Times New Roman', serif" font-size="11" font-weight="bold" text-anchor="middle" fill="#000" >(a)</text>
<text x="131" y="628.4" font-family="'Liberation Serif', 'Times New Roman', serif" font-size="11.5" font-weight="bold" text-anchor="middle" fill="#000" >(c)</text>
<text x="13.3" y="493" font-family="'Liberation Serif', 'Times New Roman', serif" font-size="11" font-weight="bold" text-anchor="middle" fill="#000" transform="rotate(-90 13.3 493)">Depth [m]</text>
<path d="M89.6,368.8 C89.33,370.67 88.6,375.63 88,380 C87.4,384.37 86.27,390 86,395 C85.73,400 86.13,405 86.4,410 C86.67,415 87.5,419.17 87.6,425 C87.7,430.83 87.4,438.33 87,445 C86.6,451.67 85.97,457.5 85.2,465 C84.43,472.5 83.57,481.83 82.4,490 C81.23,498.17 79.55,506.5 78.2,514 C76.85,521.5 74.87,529.33 74.3,535 C73.73,540.67 74.02,543.5 74.8,548 C75.58,552.5 79.13,558 79,562 C78.87,566 75.47,568.67 74,572 C72.53,575.33 71,578.17 70.2,582 C69.4,585.83 69.17,590.53 69.2,595 C69.23,599.47 70.2,606.5 70.4,608.8" class="cb"/>
<path d="M89,368.8 C88.73,370.67 88,375.63 87.4,380 C86.8,384.37 85.67,390 85.4,395 C85.13,400 85.53,405 85.8,410 C86.07,415 86.9,419.17 87,425 C87.1,430.83 86.8,438.33 86.4,445 C86,451.67 85.37,457.5 84.6,465 C83.83,472.5 82.97,481.83 81.8,490 C80.63,498.17 78.93,506.5 77.6,514 C76.27,521.5 74.3,529.33 73.8,535 C73.3,540.67 73.7,543.5 74.6,548 C75.5,552.5 78.63,557.5 79.2,562 C79.77,566.5 78.47,570.33 78,575 C77.53,579.67 76.97,584.37 76.4,590 C75.83,595.63 74.9,605.67 74.6,608.8" class="cr"/>
<path d="M200.5,368.8 C200.67,370.67 201.08,375.8 201.5,380 C201.92,384.2 202.17,389.92 203,394 C203.83,398.08 204.83,399.5 206.5,404.5 C208.17,409.5 210.83,417.42 213,424 C215.17,430.58 217.5,437.38 219.5,444 C221.5,450.62 223.58,457.2 225,463.7 C226.42,470.2 227.4,478.45 228,483 C228.6,487.55 228.32,485.67 228.6,491 C228.88,496.33 229.18,507 229.7,515 C230.22,523 230.82,533 231.7,539 C232.58,545 233.65,547.17 235,551 C236.35,554.83 239.6,558 239.8,562 C240,566 237,570.5 236.2,575 C235.4,579.5 235.25,583.37 235,589 C234.75,594.63 234.75,605.5 234.7,608.8" class="cb" stroke-dasharray="3.8,1.9"/>
<path d="M201.6,368.8 C201.77,370.67 202.17,375.8 202.6,380 C203.03,384.2 203.35,389.92 204.2,394 C205.05,398.08 206.03,399.5 207.7,404.5 C209.37,409.5 212.03,417.42 214.2,424 C216.37,430.58 218.7,437.38 220.7,444 C222.7,450.62 224.78,457.2 226.2,463.7 C227.62,470.2 228.57,478.45 229.2,483 C229.83,487.55 229.58,485.67 230,491 C230.42,496.33 231.08,507 231.7,515 C232.32,523 232.65,533 233.7,539 C234.75,545 236.22,547.17 238,551 C239.78,554.83 243.2,558 244.4,562 C245.6,566 245.13,570.5 245.2,575 C245.27,579.5 245.03,583.37 244.8,589 C244.57,594.63 243.97,605.5 243.8,608.8" class="cr" stroke-dasharray="3.8,1.9"/>
<line x1="89" y1="439.8" x2="109.5" y2="439.8" class="cb"/>
<text x="112" y="443.2" font-family="'Liberation Serif', 'Times New Roman', serif" font-size="10" font-weight="normal" text-anchor="start" fill="#000" >ML1(with ring bottom beam)</text>
<line x1="89" y1="455.2" x2="109.5" y2="455.2" class="cb" stroke-dasharray="3.8,1.9"/>
<text x="112" y="458.6" font-family="'Liberation Serif', 'Times New Roman', serif" font-size="10" font-weight="normal" text-anchor="start" fill="#000" >ML2(with ring bottom beam)</text>
<line x1="89" y1="471.6" x2="109.5" y2="471.6" class="cr"/>
<text x="112" y="475" font-family="'Liberation Serif', 'Times New Roman', serif" font-size="10" font-weight="normal" text-anchor="start" fill="#000" >ML1(without ring bottom beam)</text>
<line x1="89" y1="488" x2="109.5" y2="488" class="cr" stroke-dasharray="3.8,1.9"/>
<text x="112" y="491.4" font-family="'Liberation Serif', 'Times New Roman', serif" font-size="10" font-weight="normal" text-anchor="start" fill="#000" >ML2(without ring bottom beam)</text>
<text x="87.4" y="535.2" font-family="'Liberation Serif', 'Times New Roman', serif" font-size="10" font-weight="normal" text-anchor="start" fill="#000" >Top of the initial</text>
<text x="87.4" y="548.2" font-family="'Liberation Serif', 'Times New Roman', serif" font-size="10" font-weight="normal" text-anchor="start" fill="#000" >support structure (-41m)</text>
<line x1="166.2" y1="551.6" x2="171.9" y2="557.43" stroke="#000" stroke-width="1.2"/><polygon points="175.4,561 169.2,558.67 173.2,554.75" fill="#000" />
<text x="157.5" y="589.1" font-family="'Liberation Serif', 'Times New Roman', serif" font-size="10" font-weight="normal" text-anchor="middle" fill="#000" >Depth range of the sidewall</text>
<text x="159.3" y="601.6" font-family="'Liberation Serif', 'Times New Roman', serif" font-size="10" font-weight="normal" text-anchor="middle" fill="#000" >(-50m~-44m)</text>
<rect x="40.9" y="368.8" width="212.5" height="240" fill="none" stroke="#000" stroke-width="1.8"/>
<line x1="347.14" y1="368.8" x2="347.14" y2="608.8" class="grid"/>
<line x1="368.98" y1="368.8" x2="368.98" y2="608.8" class="grid"/>
<line x1="390.82" y1="368.8" x2="390.82" y2="608.8" class="grid"/>
<line x1="412.66" y1="368.8" x2="412.66" y2="608.8" class="grid"/>
<line x1="434.5" y1="368.8" x2="434.5" y2="608.8" class="grid"/>
<line x1="456.34" y1="368.8" x2="456.34" y2="608.8" class="grid"/>
<line x1="478.18" y1="368.8" x2="478.18" y2="608.8" class="grid"/>
<line x1="500.02" y1="368.8" x2="500.02" y2="608.8" class="grid"/>
<line x1="521.86" y1="368.8" x2="521.86" y2="608.8" class="grid"/>
<line x1="325.3" y1="372.7" x2="543.7" y2="372.7" class="grid"/>
<line x1="325.3" y1="396.31" x2="543.7" y2="396.31" class="grid"/>
<line x1="325.3" y1="419.92" x2="543.7" y2="419.92" class="grid"/>
<line x1="325.3" y1="443.53" x2="543.7" y2="443.53" class="grid"/>
<line x1="325.3" y1="467.14" x2="543.7" y2="467.14" class="grid"/>
<line x1="325.3" y1="490.75" x2="543.7" y2="490.75" class="grid"/>
<line x1="325.3" y1="514.36" x2="543.7" y2="514.36" class="grid"/>
<line x1="325.3" y1="537.97" x2="543.7" y2="537.97" class="grid"/>
<line x1="325.3" y1="561.58" x2="543.7" y2="561.58" class="grid"/>
<line x1="325.3" y1="585.19" x2="543.7" y2="585.19" class="grid"/>
<line x1="347.14" y1="368.8" x2="347.14" y2="372.3" class="tick"/>
<line x1="368.98" y1="368.8" x2="368.98" y2="372.3" class="tick"/>
<line x1="390.82" y1="368.8" x2="390.82" y2="372.3" class="tick"/>
<line x1="412.66" y1="368.8" x2="412.66" y2="372.3" class="tick"/>
<line x1="434.5" y1="368.8" x2="434.5" y2="372.3" class="tick"/>
<line x1="456.34" y1="368.8" x2="456.34" y2="372.3" class="tick"/>
<line x1="478.18" y1="368.8" x2="478.18" y2="372.3" class="tick"/>
<line x1="500.02" y1="368.8" x2="500.02" y2="372.3" class="tick"/>
<line x1="521.86" y1="368.8" x2="521.86" y2="372.3" class="tick"/>
<line x1="368.98" y1="372.7" x2="372.48" y2="372.7" class="tick"/>
<line x1="368.98" y1="396.31" x2="372.48" y2="396.31" class="tick"/>
<line x1="368.98" y1="419.92" x2="372.48" y2="419.92" class="tick"/>
<line x1="368.98" y1="443.53" x2="372.48" y2="443.53" class="tick"/>
<line x1="368.98" y1="467.14" x2="372.48" y2="467.14" class="tick"/>
<line x1="368.98" y1="490.75" x2="372.48" y2="490.75" class="tick"/>
<line x1="368.98" y1="514.36" x2="372.48" y2="514.36" class="tick"/>
<line x1="368.98" y1="537.97" x2="372.48" y2="537.97" class="tick"/>
<line x1="368.98" y1="561.58" x2="372.48" y2="561.58" class="tick"/>
<line x1="368.98" y1="585.19" x2="372.48" y2="585.19" class="tick"/>
<text x="325.3" y="357.8" font-family="'Liberation Serif', 'Times New Roman', serif" font-size="11" font-weight="normal" text-anchor="middle" fill="#000" class="tl">-1</text>
<text x="347.14" y="357.8" font-family="'Liberation Serif', 'Times New Roman', serif" font-size="11" font-weight="normal" text-anchor="middle" fill="#000" class="tl">-0.5</text>
<text x="368.98" y="357.8" font-family="'Liberation Serif', 'Times New Roman', serif" font-size="11" font-weight="normal" text-anchor="middle" fill="#000" class="tl">0</text>
<text x="390.82" y="357.8" font-family="'Liberation Serif', 'Times New Roman', serif" font-size="11" font-weight="normal" text-anchor="middle" fill="#000" class="tl">0.5</text>
<text x="412.66" y="357.8" font-family="'Liberation Serif', 'Times New Roman', serif" font-size="11" font-weight="normal" text-anchor="middle" fill="#000" class="tl">1</text>
<text x="434.5" y="357.8" font-family="'Liberation Serif', 'Times New Roman', serif" font-size="11" font-weight="normal" text-anchor="middle" fill="#000" class="tl">1.5</text>
<text x="456.34" y="357.8" font-family="'Liberation Serif', 'Times New Roman', serif" font-size="11" font-weight="normal" text-anchor="middle" fill="#000" class="tl">2</text>
<text x="478.18" y="357.8" font-family="'Liberation Serif', 'Times New Roman', serif" font-size="11" font-weight="normal" text-anchor="middle" fill="#000" class="tl">2.5</text>
<text x="500.02" y="357.8" font-family="'Liberation Serif', 'Times New Roman', serif" font-size="11" font-weight="normal" text-anchor="middle" fill="#000" class="tl">3</text>
<text x="521.86" y="357.8" font-family="'Liberation Serif', 'Times New Roman', serif" font-size="11" font-weight="normal" text-anchor="middle" fill="#000" class="tl">3.5</text>
<text x="543.7" y="357.8" font-family="'Liberation Serif', 'Times New Roman', serif" font-size="11" font-weight="normal" text-anchor="middle" fill="#000" class="tl">4</text>
<text x="317.8" y="376.7" font-family="'Liberation Serif', 'Times New Roman', serif" font-size="11" font-weight="normal" text-anchor="end" fill="#000" class="tl">-1</text>
<text x="317.8" y="400.31" font-family="'Liberation Serif', 'Times New Roman', serif" font-size="11" font-weight="normal" text-anchor="end" fill="#000" class="tl">-6</text>
<text x="317.8" y="423.92" font-family="'Liberation Serif', 'Times New Roman', serif" font-size="11" font-weight="normal" text-anchor="end" fill="#000" class="tl">-11</text>
<text x="317.8" y="447.53" font-family="'Liberation Serif', 'Times New Roman', serif" font-size="11" font-weight="normal" text-anchor="end" fill="#000" class="tl">-16</text>
<text x="317.8" y="471.14" font-family="'Liberation Serif', 'Times New Roman', serif" font-size="11" font-weight="normal" text-anchor="end" fill="#000" class="tl">-21</text>
<text x="317.8" y="494.75" font-family="'Liberation Serif', 'Times New Roman', serif" font-size="11" font-weight="normal" text-anchor="end" fill="#000" class="tl">-26</text>
<text x="317.8" y="518.36" font-family="'Liberation Serif', 'Times New Roman', serif" font-size="11" font-weight="normal" text-anchor="end" fill="#000" class="tl">-31</text>
<text x="317.8" y="541.97" font-family="'Liberation Serif', 'Times New Roman', serif" font-size="11" font-weight="normal" text-anchor="end" fill="#000" class="tl">-36</text>
<text x="317.8" y="565.58" font-family="'Liberation Serif', 'Times New Roman', serif" font-size="11" font-weight="normal" text-anchor="end" fill="#000" class="tl">-41</text>
<text x="317.8" y="589.19" font-family="'Liberation Serif', 'Times New Roman', serif" font-size="11" font-weight="normal" text-anchor="end" fill="#000" class="tl">-46</text>
<text x="317.8" y="612.8" font-family="'Liberation Serif', 'Times New Roman', serif" font-size="11" font-weight="normal" text-anchor="end" fill="#000" class="tl">-51</text>
<text x="433.8" y="341.6" font-family="'Liberation Serif', 'Times New Roman', serif" font-size="11" font-weight="bold" text-anchor="middle" fill="#000" >Convergent displacement [mm]</text>
<text x="419.1" y="324.6" font-family="'Liberation Serif', 'Times New Roman', serif" font-size="11" font-weight="bold" text-anchor="middle" fill="#000" >(b)</text>
<text x="419.1" y="628.4" font-family="'Liberation Serif', 'Times New Roman', serif" font-size="11.5" font-weight="bold" text-anchor="middle" fill="#000" >(d)</text>
<text x="298" y="493" font-family="'Liberation Serif', 'Times New Roman', serif" font-size="11" font-weight="bold" text-anchor="middle" fill="#000" transform="rotate(-90 298 493)">Depth [m]</text>
<line x1="369.5" y1="368.8" x2="369.5" y2="608.8" stroke="#000" stroke-width="1.1"/>
<path d="M346.2,368.8 C345.57,370.33 343.38,374.97 342.4,378 C341.42,381.03 340.17,384.22 340.3,387 C340.43,389.78 340.98,392.37 343.2,394.7 C345.42,397.03 349.38,398.82 353.6,401 C357.82,403.18 362.67,404.85 368.5,407.8 C374.33,410.75 383.05,415.42 388.6,418.7 C394.15,421.98 397.77,424.37 401.8,427.5 C405.83,430.63 408.37,433.87 412.8,437.5 C417.23,441.13 423.95,446.3 428.4,449.3 C432.85,452.3 436.43,453.05 439.5,455.5 C442.57,457.95 445.02,460.42 446.8,464 C448.58,467.58 449.67,473 450.2,477 C450.73,481 450.63,484.5 450,488 C449.37,491.5 447.6,495 446.4,498 C445.2,501 444.53,503.33 442.8,506 C441.07,508.67 438.22,511.5 436,514 C433.78,516.5 431.43,518.08 429.5,521 C427.57,523.92 424.4,528.17 424.4,531.5 C424.4,534.83 426.57,538.42 429.5,541 C432.43,543.58 436.92,545 442,547 C447.08,549 454,551.08 460,553 C466,554.92 473.15,556.97 478,558.5 C482.85,560.03 487.25,561.58 489.1,562.2 L489.1,562.2 C487.25,562.92 481.85,565.03 478,566.5 C474.15,567.97 470.67,569.5 466,571 C461.33,572.5 454.55,574.07 450,575.5 C445.45,576.93 442.37,577.85 438.7,579.6 C435.03,581.35 430.72,583.85 428,586 C425.28,588.15 423.57,590.5 422.4,592.5 C421.23,594.5 420.9,596.02 421,598 C421.1,599.98 422.2,602.6 423,604.4 C423.8,606.2 425.33,608.07 425.8,608.8" class="cb" stroke-linejoin="round"/>
<path d="M347.6,368.8 C346.93,370.33 344.57,374.97 343.6,378 C342.63,381.03 341.57,384.22 341.8,387 C342.03,389.78 342.63,392.37 345,394.7 C347.37,397.03 351.8,398.82 356,401 C360.2,403.18 364.37,404.85 370.2,407.8 C376.03,410.75 385.3,415.42 391,418.7 C396.7,421.98 399.97,424.37 404.4,427.5 C408.83,430.63 413.1,433.87 417.6,437.5 C422.1,441.13 427.07,446.3 431.4,449.3 C435.73,452.3 440.23,453.05 443.6,455.5 C446.97,457.95 449.53,460.42 451.6,464 C453.67,467.58 455.15,473 456,477 C456.85,481 456.95,484.33 456.7,488 C456.45,491.67 455.53,496.08 454.5,499 C453.47,501.92 452.17,503 450.5,505.5 C448.83,508 446.17,511.25 444.5,514 C442.83,516.75 441.58,518.92 440.5,522 C439.42,525.08 437.78,529.58 438,532.5 C438.22,535.42 439.47,537.33 441.8,539.5 C444.13,541.67 447.3,543.83 452,545.5 C456.7,547.17 462.42,547.98 470,549.5 C477.58,551.02 489.58,552.78 497.5,554.6 C505.42,556.42 513.6,559.13 517.5,560.4 C521.4,561.67 520.33,561.9 520.9,562.2 L520.3,564.4 L519.5,566.7 L521.1,569.5 L521.5,572.4 L519.8,576.4 L516.4,581 L511.8,583.75 L509,586.6 L506.7,591.1 L503.3,594.5 L499.3,597.4 L496.5,599.7 L494.8,603 L491.9,606.5 L489.1,608.8" class="cr" stroke-linejoin="round"/>
<line x1="401.4" y1="382" x2="420.5" y2="382" class="cb"/>
<text x="424" y="385.6" font-family="'Liberation Serif', 'Times New Roman', serif" font-size="10" font-weight="normal" text-anchor="start" fill="#000" >Convergent displacement</text>
<text x="424" y="396.8" font-family="'Liberation Serif', 'Times New Roman', serif" font-size="10" font-weight="normal" text-anchor="start" fill="#000" >(with ring bottom beam)</text>
<line x1="401.4" y1="407.3" x2="420.5" y2="407.3" class="cr"/>
<text x="424" y="411" font-family="'Liberation Serif', 'Times New Roman', serif" font-size="10" font-weight="normal" text-anchor="start" fill="#000" >Convergent displacement</text>
<text x="424" y="422.2" font-family="'Liberation Serif', 'Times New Roman', serif" font-size="10" font-weight="normal" text-anchor="start" fill="#000" >(without ring bottom beam)</text>
<text x="492.8" y="529" font-family="'Liberation Serif', 'Times New Roman', serif" font-size="10" font-weight="normal" text-anchor="middle" fill="#000" >Top of the initial</text>
<text x="492.2" y="542.3" font-family="'Liberation Serif', 'Times New Roman', serif" font-size="10" font-weight="normal" text-anchor="middle" fill="#000" >support structure (-41m)</text>
<line x1="514.8" y1="544.5" x2="524.75" y2="556.3" stroke="#000" stroke-width="1.2"/><polygon points="528.3,560.5 521.89,557.4 526.32,553.66" fill="#000" />
<text x="454.4" y="587.8" font-family="'Liberation Serif', 'Times New Roman', serif" font-size="10" font-weight="normal" text-anchor="middle" fill="#000" >Depth range of the sidewall</text>
<text x="455.7" y="601.2" font-family="'Liberation Serif', 'Times New Roman', serif" font-size="10" font-weight="normal" text-anchor="middle" fill="#000" >(-50m~-44m)</text>
<rect x="325.3" y="368.8" width="218.4" height="240" fill="none" stroke="#000" stroke-width="1.8"/>
</svg>
</body></html>
